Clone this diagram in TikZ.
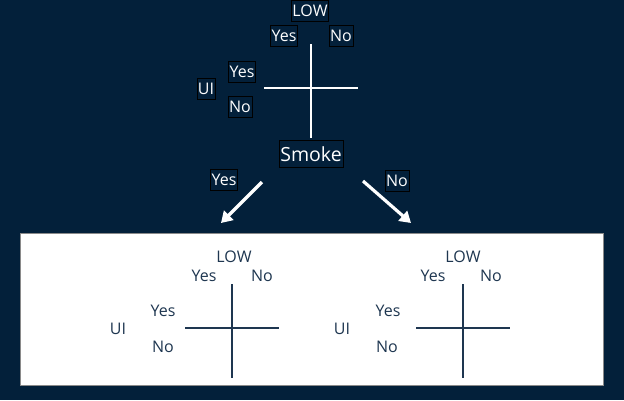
\documentclass[tikz,border=0pt]{standalone}
\usepackage{fontspec}
\setmainfont{Open Sans}
\usepackage{tikz}
\usetikzlibrary{arrows.meta,positioning}
\definecolor{navybg}{HTML}{03203A}
\definecolor{inkline}{HTML}{1E3650}
\definecolor{framegray}{HTML}{8A8A8A}
\tikzset{
  toplabel/.style={
    rectangle, draw=black, thin, text=white,
    font=\fontsize{16}{18}\selectfont,
    inner sep=1pt, minimum height=21pt
  },
  smokelabel/.style={
    rectangle, draw=black, thin, text=white,
    font=\fontsize{19.5}{22}\selectfont,
    inner sep=1.5pt, minimum height=27pt
  },
  boxlabel/.style={
    text=inkline, font=\fontsize{16}{18}\selectfont, inner sep=1pt
  },
  crossline/.style={draw=#1, line width=1.6pt},
  crossline/.default=white,
  splitarrow/.style={
    -{Triangle[length=11pt,width=13pt]}, line width=3.2pt, color=white
  },
}

\begin{document}
\begin{tikzpicture}[x=1pt,y=-1pt]
  \fill[navybg] (0,0) rectangle (624,400);
  \useasboundingbox (0,0) rectangle (624,400);

  % top table
  \node[toplabel] (lowtop) at (310,11) {LOW};
  \node[toplabel] (yestop) at (284,36) {Yes};
  \node[toplabel] (notop) at (341,36) {No};
  \node[toplabel] (yesleft) at (242,72) {Yes};
  \node[toplabel] (uitop) at (206,89) {UI};
  \node[toplabel] (noleft) at (240,107) {No};
  \coordinate (vtop) at (311,44);
  \coordinate (vbot) at (311,138);
  \coordinate (hleft) at (264,88);
  \coordinate (hright) at (358,88);
  \draw[crossline] (vtop) -- (vbot);
  \draw[crossline] (hleft) -- (hright);
  \node[smokelabel] (smoke) at (311,154) {Smoke};

  % split
  \node[toplabel] (yessplit) at (224,180) {Yes};
  \node[toplabel] (nosplit) at (397,181) {No};
  \coordinate (ayes0) at (262,182);
  \coordinate (ayes1) at (221,223);
  \coordinate (ano0) at (363,181);
  \coordinate (ano1) at (411,223);
  \draw[splitarrow] (ayes0) -- (ayes1);
  \draw[splitarrow] (ano0) -- (ano1);

  % lower panel
  \draw[framegray, fill=white, line width=1pt] (20,233) rectangle (603,385);

  \node[boxlabel] (lowa) at (234,257) {LOW};
  \node[boxlabel] (yesa) at (204,276) {Yes};
  \node[boxlabel] (noa) at (262,276) {No};
  \node[boxlabel] (yesal) at (163,311) {Yes};
  \node[boxlabel] (uia) at (118,329) {UI};
  \node[boxlabel] (noal) at (163,347) {No};
  \coordinate (va0) at (232,284);
  \coordinate (va1) at (232,378);
  \coordinate (ha0) at (185,328);
  \coordinate (ha1) at (279,328);
  \draw[crossline=inkline] (va0) -- (va1);
  \draw[crossline=inkline] (ha0) -- (ha1);

  \node[boxlabel] (lowb) at (463,257) {LOW};
  \node[boxlabel] (yesb) at (433,276) {Yes};
  \node[boxlabel] (nob) at (491,276) {No};
  \node[boxlabel] (yesbl) at (388,311) {Yes};
  \node[boxlabel] (uib) at (342,329) {UI};
  \node[boxlabel] (nobl) at (387,347) {No};
  \coordinate (vb0) at (463,284);
  \coordinate (vb1) at (463,378);
  \coordinate (hb0) at (416,328);
  \coordinate (hb1) at (510,328);
  \draw[crossline=inkline] (vb0) -- (vb1);
  \draw[crossline=inkline] (hb0) -- (hb1);
\end{tikzpicture}
\end{document}
